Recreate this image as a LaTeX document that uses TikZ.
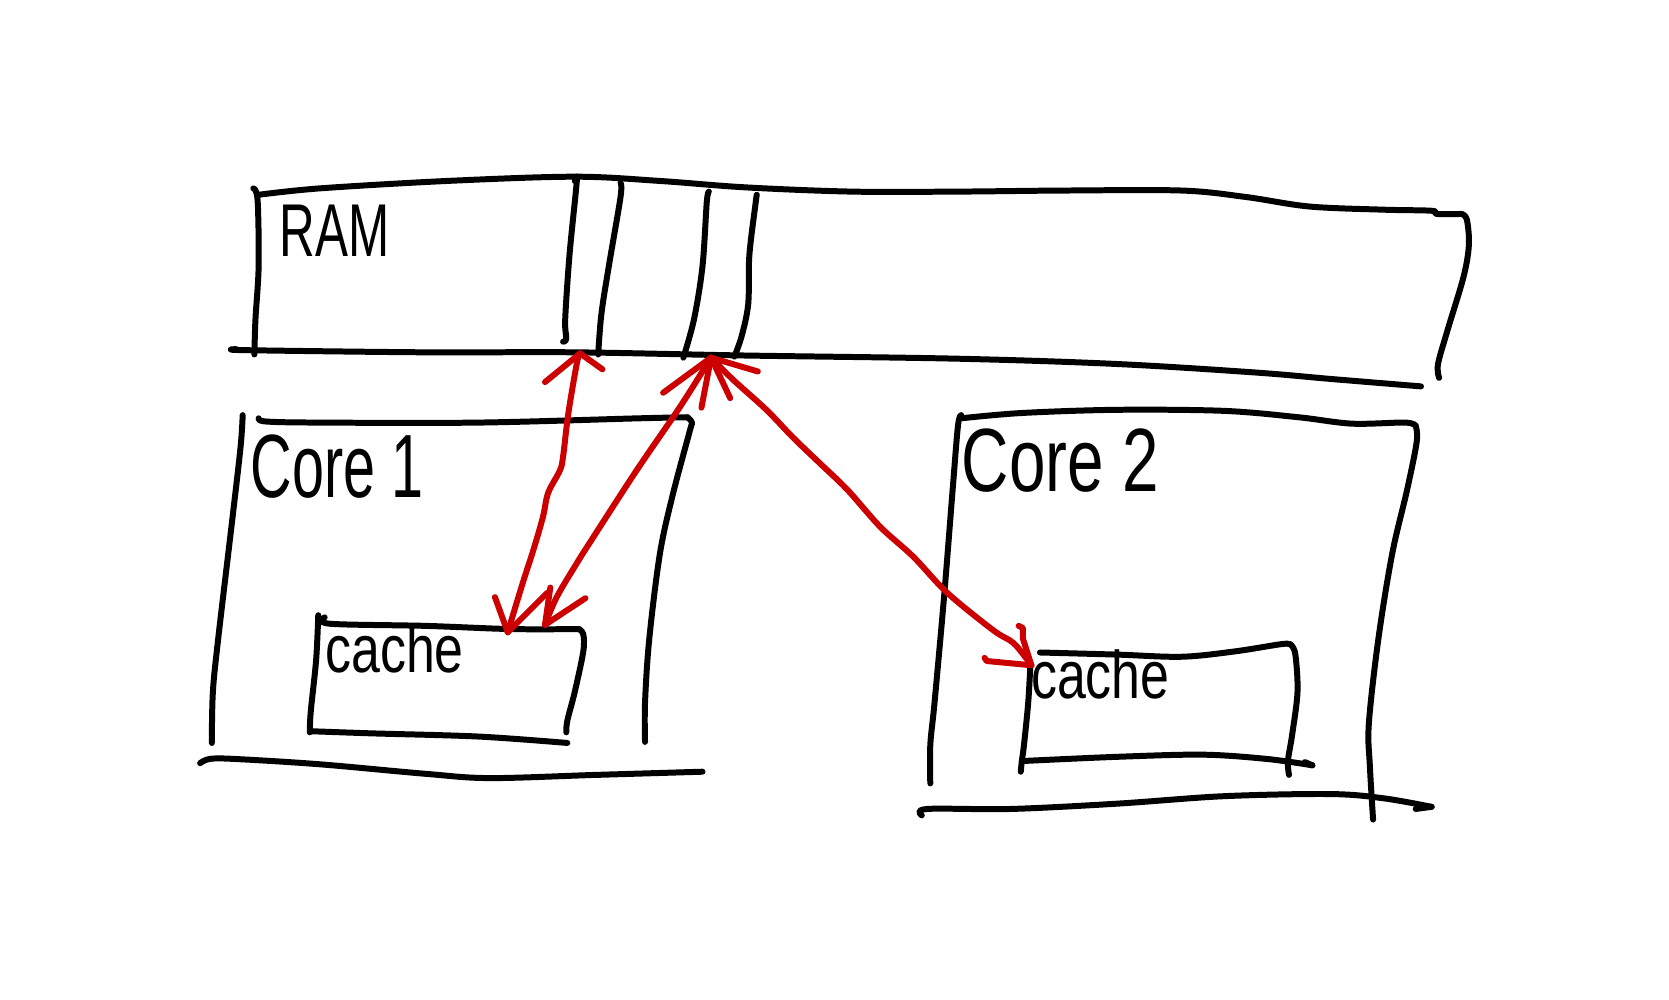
\documentclass[tikz,border=0pt]{standalone}
\usepackage{fontspec}
\setmainfont{Liberation Sans}
\definecolor{penred}{RGB}{204,0,0}
\begin{document}
\begin{tikzpicture}[x=0.01cm,y=-0.01cm,
  pen/.style={line width=1.6pt, line cap=round, line join=round},
  ink/.style={pen, draw=black},
  redink/.style={pen, draw=penred},
  hand/.style={inner sep=0pt, anchor=west, text=black},
  sm/.style={smooth, tension=0.55}]
\useasboundingbox[fill=white] (0,0) rectangle (1568,939);

% ---------- RAM ----------
\draw[ink] plot[sm] coordinates {(243,183) (300,177) (420,170) (540,166) (620,170) (700,176) (800,180) (900,180) (1000,179) (1110,179) (1170,185) (1230,194) (1300,197) (1345,198) (1350,201) (1373,201)};
\draw[ink] plot[sm] coordinates {(1373,201) (1378,206) (1380,230) (1375,260) (1360,310) (1351,342) (1352,355)};
\draw[ink] plot[sm] coordinates {(238,177) (242,188) (243,250) (240,300) (239,333)};
\draw[ink] plot[sm] coordinates {(222,328) (232,329) (400,331) (540,331) (700,334) (900,337) (1050,342) (1180,350) (1250,356) (1335,363)};
% slots
\draw[ink] plot[sm] coordinates {(540,170) (542,166) (541,180) (535,240) (531,300) (532,318) (529,321)};
\draw[ink] plot[sm] coordinates {(583,172) (583,185) (572,250) (565,295) (562,333)};
\draw[ink] plot[sm] coordinates {(666,180) (664,190) (660,250) (652,300) (642,336)};
\draw[ink] plot[sm] coordinates {(711,183) (710,190) (704,240) (703,285) (697,315) (690,335)};
\node[hand] (ramlabel) at (262,217) {\scalebox{0.66}[1]{\fontsize{20}{20}\selectfont RAM}};

% ---------- Core 1 ----------
\draw[ink] plot[sm] coordinates {(228,390) (226,420) (218,490) (205,600) (200,650) (199,698)};
\draw[ink] plot[sm] coordinates {(243,393) (250,396) (300,397) (450,397) (600,393) (646,392)};
\draw[ink] plot[sm] coordinates {(646,392) (650,397) (648,405) (632,465) (620,520) (610,600) (606,660) (606,697)};
\draw[ink] plot[sm] coordinates {(188,717) (197,713) (220,713) (300,718) (400,727) (460,731) (560,728) (660,725)};
\node[hand] (core1label) at (235,438) {\scalebox{0.64}[1]{\fontsize{24}{24}\selectfont Core 1}};
% cache 1
\draw[ink] plot[sm] coordinates {(299,578) (297,620) (292,668) (291,688)};
\draw[ink] plot[sm] coordinates {(305,580) (310,586) (400,588) (480,591) (544,591)};
\draw[ink] plot[sm] coordinates {(544,591) (548,596) (548,612) (540,650) (533,677) (532,688)};
\draw[ink] plot[sm] coordinates {(293,687) (350,689) (450,692) (533,698)};
\node[hand] (cache1label) at (305,609) {\scalebox{0.77}[1]{\fontsize{18}{18}\selectfont cache}};

% ---------- Core 2 ----------
\draw[ink] plot[sm] coordinates {(903,390) (900,400) (895,460) (887,560) (878,660) (874,700) (874,736)};
\draw[ink] plot[sm] coordinates {(903,393) (960,388) (1050,385) (1150,386) (1220,392) (1270,398) (1320,397) (1330,400)};
\draw[ink] plot[sm] coordinates {(1330,400) (1331,415) (1322,460) (1308,520) (1295,600) (1286,680) (1287,720) (1290,770)};
\draw[ink] plot[sm] coordinates {(866,766) (871,760) (950,760) (1050,755) (1150,748) (1250,746) (1300,750) (1345,758)};
\draw[ink] (1330,760) -- (1345,758);
\node[hand] (core2label) at (903,433) {\scalebox{0.73}[1]{\fontsize{24}{24}\selectfont Core 2}};
% cache 2
\draw[ink] plot[sm] coordinates {(968,625) (966,660) (962,700) (960,715) (959,725)};
\draw[ink] plot[sm] coordinates {(977,613) (1050,615) (1110,617) (1160,612) (1205,605) (1213,606)};
\draw[ink] plot[sm] coordinates {(1213,606) (1217,615) (1219,650) (1214,690) (1210,715) (1211,728)};
\draw[ink] plot[sm] coordinates {(960,715) (1050,711) (1130,709) (1190,713) (1233,719)};
\draw[ink] (1226,716) -- (1233,719);
\node[hand] (cache2label) at (968,634) {\scalebox{0.77}[1]{\fontsize{18}{18}\selectfont cache}};

% ---------- red arrows ----------
\coordinate (slotA) at (545,332);
\coordinate (slotB) at (668,336);
\coordinate (cacheA) at (477,594);
\coordinate (cacheB) at (512,587);
\coordinate (cacheC) at (969,625);

% arrow 1
\draw[redink] plot[sm] coordinates {(cacheA) (491,548) (501,517) (510,486) (515,463) (526,442) (529,429) (534,388) (542,341) (slotA)};
\draw[redink] (slotA) -- (512,359);
\draw[redink] (slotA) -- (566,347);
\draw[redink] (cacheA) -- (465,561);
\draw[redink] (cacheA) -- (514,557);

% arrow 2
\draw[redink] plot[sm] coordinates {(cacheB) (523,561) (542,529) (554,510) (598,442) (639,382) (slotB)};
\draw[redink] (cacheB) -- (517,552);
\draw[redink] (cacheB) -- (550,562);
\draw[redink] (slotB) -- (623,369);
\draw[redink] (slotB) -- (659,383);

% arrow 3
\draw[redink] plot[sm] coordinates {(slotB) (689,357) (720,385) (745,411) (770,435) (796,460) (827,495) (858,523) (890,557) (933,592) (952,604) (966,621) (cacheC)};
\draw[redink] (slotB) -- (686,374);
\draw[redink] (slotB) -- (712,349);
\draw[redink] (cacheC) -- (961,600) -- (961,590) -- (957,588);
\draw[redink] (cacheC) -- (927,621) -- (925,618);
\end{tikzpicture}
\end{document}
